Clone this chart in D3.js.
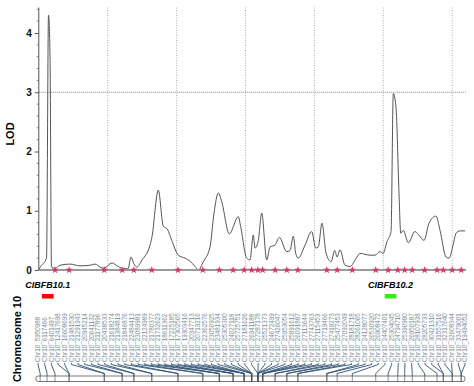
<!DOCTYPE html>
<html><head><meta charset="utf-8">
<script src="https://cdn.jsdelivr.net/npm/d3@7"></script>
<style>body{margin:0;background:#fff}svg{display:block}</style>
</head><body>
<svg id="c" width="474" height="386"></svg>
<script>
// ---- data ----
const lodPos = [0,0.17,1.12,1.41,1.63,1.84,2.35,3.08,4.53,5.98,7.43,8.16,8.88,9.46,10.62,11.49,12.51,12.95,13.38,13.82,14.25,14.98,16.14,16.57,16.86,17.34,18.07,18.65,19.29,20.25,21.22,21.95,22.67,23.15,23.88,24.85,25.43,26.05,26.55,27.65,28.96,29.30,30.17,30.65,31.13,31.38,31.86,32.35,33.08,33.56,34.28,34.91,35.98,36.46,36.94,37.29,37.66,38.64,39.61,40.19,40.57,41.10,41.68,42.41,42.95,43.28,43.72,44.44,45.17,46.18,46.62,48.06,48.79,49.52,49.96,50.54,51.12,51.45,51.84,52.28,52.53,52.90,53.63,54.60,55.08,55.91,56.63,57.65,58.23,59.10,59.54,60.12,60.56,61.14,61.86];
const lodVal = [0,0.04,0.2,4.3,3.6,0.05,0.03,0.08,0.1,0.07,0.08,0.1,0.05,0.03,0.12,0.06,0.02,0.02,0.22,0.1,0.05,0.17,0.42,0.67,1.0,1.35,0.74,0.69,0.5,0.25,0.2,0.15,0.06,0.0,0.14,0.39,0.96,1.3,1.15,0.61,0.9,0.73,0.2,0.17,0.59,0.37,0.5,0.96,0.17,0.39,0.42,0.55,0.31,0.33,0.57,0.28,0.2,0.42,0.65,0.37,0.39,0.79,0.29,0.14,0.33,0.22,0.34,0.08,0.06,0.22,0.28,0.25,0.25,0.31,0.28,0.48,0.65,2.98,2.75,1.29,0.62,0.67,0.46,0.65,0.6,0.5,0.79,0.91,0.67,0.22,0.2,0.42,0.62,0.66,0.66];
const yTicks = [0,1,2,3,4];
const threshold = 3;
const gridCM = [10,20,30,40,50,60];
const markerNames = ["Chr10_5950988","Chr10_6117466","Chr10_6401497","Chr10_12417698","Chr10_16608699","Chr10_21481530","Chr10_21291943","Chr10_20945214","Chr10_20641132","Chr10_21177896","Chr10_20438533","Chr10_21618274","Chr10_21384819","Chr10_21846876","Chr10_22484413","Chr10_23089981","Chr10_22124989","Chr10_21780377","Chr10_21732623","Chr10_18611362","Chr10_17225185","Chr10_17302565","Chr10_19303416","Chr10_20347713","Chr10_20719216","Chr10_22362576","Chr10_23050925","Chr10_23481934","Chr10_25305300","Chr10_24027118","Chr10_25725751","Chr10_27181626","Chr10_26941188","Chr10_27287178","Chr10_25521373","Chr10_24672499","Chr10_27426047","Chr10_25953054","Chr10_25891612","Chr10_26091887","Chr10_27113644","Chr10_27743763","Chr10_27115453","Chr10_27719466","Chr10_27418273","Chr10_25477453","Chr10_27092049","Chr10_28181718","Chr10_28261065","Chr10_24128077","Chr10_26530920","Chr10_26908472","Chr10_24407401","Chr10_25304045","Chr10_24794710","Chr10_25390980","Chr10_26950187","Chr10_28107938","Chr10_28205733","Chr10_30421310","Chr10_31557516","Chr10_32317640","Chr10_32608344","Chr10_33479001","Chr10_19494052"];
const markerPos = [0.2,1.2,2.35,4.4,4.4,9.5,9.5,12.1,12.1,13.8,13.8,16.4,16.4,20.2,20.2,23.8,23.8,26.2,26.2,26.2,28.2,28.2,28.2,29.8,29.8,29.8,29.8,30.9,30.9,30.9,30.9,30.9,31.8,31.8,31.8,31.8,31.8,31.8,32.5,32.5,32.5,32.5,34.3,34.3,36.0,36.0,37.6,37.6,41.8,41.8,43.3,45.5,48.9,50.7,52.1,53.1,54.2,56.0,57.8,58.7,58.7,60.0,60.0,61.3,61.3];
const qtlNames = ["CIBFB10.1","CIBFB10.2"];
const qtlStart = [0.45,50.2];
const qtlEnd = [2.15,51.9];
const qtlColors = ["#ff0000","#33ee11"];

// ---- drawing ----
const svg = d3.select("#c");
const x = d3.scaleLinear().domain([0,62]).range([38.8,466]);
const y = d3.scaleLinear().domain([0,4]).range([270,33]);
const yTop = y(4.43);
const font = "Arial, 'Liberation Sans', sans-serif";

// grid
svg.append("g").selectAll("line").data(gridCM).join("line")
  .attr("x1",d=>x(d)).attr("x2",d=>x(d)).attr("y1",yTop).attr("y2",y(0))
  .attr("stroke","#b0b0b0").attr("stroke-width",1).attr("stroke-dasharray","1,1.5");
svg.append("line").attr("x1",x(0)).attr("x2",x(62)).attr("y1",y(threshold)).attr("y2",y(threshold))
  .attr("stroke","#888").attr("stroke-width",1).attr("stroke-dasharray","1,1");

// y axis
const yAxis = d3.axisLeft(y).tickValues(yTicks).tickSize(4).tickFormat(d3.format("d"));
const gy = svg.append("g").attr("transform",`translate(${x(0)},0)`).call(yAxis);
gy.select(".domain").remove();
gy.selectAll("text").attr("font-family",font).attr("font-weight","bold").attr("font-size",10).attr("fill","#111");
gy.selectAll("line").attr("stroke","#555");
const minor = d3.range(0,4.41,0.2).filter(v=>Math.abs(v-Math.round(v))>0.01);
svg.append("g").selectAll("line").data(minor).join("line")
  .attr("x1",x(0)-2).attr("x2",x(0)).attr("y1",d=>y(d)).attr("y2",d=>y(d))
  .attr("stroke","#666").attr("stroke-width",0.8);
svg.append("line").attr("x1",x(0)).attr("x2",x(0)).attr("y1",yTop).attr("y2",y(0)).attr("stroke","#555").attr("stroke-width",1);
svg.append("text").attr("transform",`translate(14,${134}) rotate(-90)`).attr("text-anchor","middle")
  .attr("font-family",font).attr("font-weight","bold").attr("font-size",11).text("LOD");

// LOD curve
const lodData = lodPos.map((p,i)=>[p,lodVal[i]]);
svg.append("path").datum(lodData)
  .attr("d",d3.line().x(d=>x(d[0])).y(d=>y(d[1])).curve(d3.curveMonotoneX))
  .attr("fill","none").attr("stroke","#555").attr("stroke-width",1);

// baseline
svg.append("line").attr("x1",x(0)).attr("x2",x(62)).attr("y1",y(0)).attr("y2",y(0))
  .attr("stroke","#9a9a9a").attr("stroke-width",2.2);

// marker stars
const starPos = Array.from(new Set(markerPos)).filter(p=>p>2);
svg.append("g").selectAll("path").data(starPos).join("path")
  .attr("d",d3.symbol(d3.symbolStar,17))
  .attr("transform",d=>`translate(${x(d)},${y(0)})`)
  .attr("fill","#d8336b");

// QTL labels and bars
const qg = svg.append("g");
qtlNames.forEach((n,i)=>{
  const cx = (x(qtlStart[i])+x(qtlEnd[i]))/2;
  qg.append("text").attr("x",cx).attr("y",288).attr("text-anchor","middle")
    .attr("font-family",font).attr("font-weight","bold").attr("font-style","italic").attr("font-size",9).text(n);
  qg.append("rect").attr("x",x(qtlStart[i])).attr("y",294).attr("width",x(qtlEnd[i])-x(qtlStart[i])).attr("height",4.5)
    .attr("fill",qtlColors[i]);
});

// Chromosome label
svg.append("text").attr("transform",`translate(21,339) rotate(-90)`).attr("text-anchor","middle")
  .attr("font-family",font).attr("font-weight","bold").attr("font-size",11).text("Chromosome 10");

// marker labels
const lx = d3.scalePoint().domain(d3.range(markerNames.length)).range([38,465]);
svg.append("g").selectAll("text").data(markerNames).join("text")
  .attr("transform",(d,i)=>`translate(${lx(i)+2.2},362) rotate(-90)`)
  .attr("font-family",font).attr("font-size",6.3).attr("fill","#7a8a9a").text(d=>d);

// connectors
svg.append("g").selectAll("path").data(markerPos).join("path")
  .attr("d",(d,i)=>`M${lx(i)},363L${lx(i)},364.5L${x(d)},373.5L${x(d)},376`)
  .attr("fill","none").attr("stroke","#2f5173").attr("stroke-width",0.9);

// chromosome bar
svg.append("rect").attr("x",x(0)-3).attr("y",376).attr("width",x(62)-x(0)+2).attr("height",5.5).attr("rx",2.5)
  .attr("fill","#fff").attr("stroke","#555").attr("stroke-width",0.8);
svg.append("g").selectAll("line").data(markerPos).join("line")
  .attr("x1",d=>x(d)).attr("x2",d=>x(d)).attr("y1",376).attr("y2",381.5)
  .attr("stroke","#444").attr("stroke-width",0.6);
</script>
</body></html>
